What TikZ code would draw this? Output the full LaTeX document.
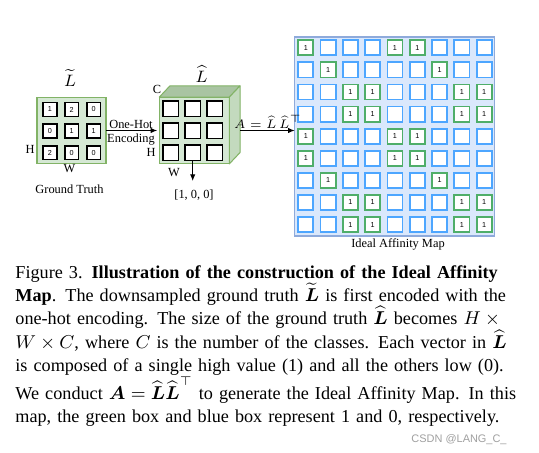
\documentclass[tikz,border=0pt]{standalone}
\usepackage{amsmath}
\usepackage{fontspec}
\setmainfont{Liberation Serif}
\newfontfamily\cellfont{Liberation Sans}
\usetikzlibrary{arrows.meta}
\definecolor{gfill}{HTML}{D5E8D4}
\definecolor{gdraw}{HTML}{82B366}
\definecolor{gtop}{HTML}{A9C4A2}
\definecolor{gside}{HTML}{C3DABE}
\definecolor{mfill}{HTML}{DAE8FC}
\definecolor{mdraw}{HTML}{8EAADB}
\definecolor{cblue}{HTML}{4DA6FF}
\definecolor{cgreen}{HTML}{4FAE6A}
\definecolor{wmark}{HTML}{A0A0A0}
\newcommand{\capline}[1]{\makebox[229.4pt][s]{#1}}
\begin{document}
\begin{tikzpicture}[x=0.484pt,y=-0.484pt,
  lab/.style={inner sep=0pt,font=\fontsize{6}{6.4}\selectfont},
  bigl/.style={inner sep=0pt,font=\fontsize{8.5}{9}\selectfont},
  greenbox/.style={draw=gdraw,fill=gfill,line width=0.5pt,inner sep=0pt,outer sep=0pt},
  blackcell/.style={draw=black,line width=0.7pt,fill=white,inner sep=0pt,font=\cellfont\fontsize{3.5}{4}\selectfont},
  gtcell/.style={blackcell,minimum size=6.6pt},
  cubecell/.style={blackcell,minimum size=7.5pt},
  mapcell/.style={line width=0.9pt,fill=white,inner sep=0pt,minimum size=7.3pt,font=\cellfont\fontsize{3.5}{4}\selectfont},
  gcell/.style={mapcell,draw=cgreen},
  bcell/.style={mapcell,draw=cblue},
  arr/.style={-{Latex[length=3.2pt,width=2.6pt]},line width=0.5pt}]
\fill[white] (0,0) rectangle (539,453);
\useasboundingbox (0,0) rectangle (539,453);

% ---------- ground truth ----------
\node[greenbox,minimum width=33.4pt,minimum height=32.4pt] (gt) at (71.5,130.5) {};
\node[gtcell] (g11) at (50,109.5) {1};
\node[gtcell] (g12) at (71.7,109.5) {2};
\node[gtcell] (g13) at (93.7,109.5) {0};
\node[gtcell] (g21) at (50,131) {0};
\node[gtcell] (g22) at (71.7,131) {1};
\node[gtcell] (g23) at (93.7,131) {1};
\node[gtcell] (g31) at (50,152.7) {2};
\node[gtcell] (g32) at (71.7,152.7) {0};
\node[gtcell] (g33) at (93.7,152.7) {0};
\node[bigl] (lt) at (70,78) {$\widetilde{L}$};
\node[lab] (gth) at (30,149) {H};
\node[lab] (gtw) at (69.5,169) {W};
\node[lab] (gtl) at (69.5,189) {Ground Truth};

% ---------- cube ----------
\node[greenbox,minimum width=33.9pt,minimum height=32.3pt] (cf) at (194.3,130.5) {};
\filldraw[draw=gdraw,fill=gtop,line width=0.5pt,line join=round]
  (cf.north west) -- ([shift={(10.7,-11.3)}]cf.north west) -- ([shift={(10.7,-11.3)}]cf.north east) -- (cf.north east) -- cycle;
\filldraw[draw=gdraw,fill=gside,line width=0.5pt,line join=round]
  (cf.north east) -- ([shift={(10.7,-11.3)}]cf.north east) -- ([shift={(10.7,-11.3)}]cf.south east) -- (cf.south east) -- cycle;
\node[cubecell] (c11) at (170.7,108.7) {};
\node[cubecell] (c12) at (192.7,108.7) {};
\node[cubecell] (c13) at (214.7,108.7) {};
\node[cubecell] (c21) at (170.7,130.7) {};
\node[cubecell] (c22) at (192.7,130.7) {};
\node[cubecell] (c23) at (214.7,130.7) {};
\node[cubecell] (c31) at (170.7,152.7) {};
\node[cubecell] (c32) at (192.7,152.7) {};
\node[cubecell] (c33) at (214.7,152.7) {};
\node[bigl] (lh) at (201.7,74) {$\widehat{L}$};
\node[lab] (cc) at (157,89) {C};
\node[lab] (ch) at (151,152) {H};
\node[lab] (cw) at (174,173) {W};
\coordinate (dn) at (192.7,181);
\draw[arr] (c32.south) -- (dn);
\node[lab] (vec) at (194,195) {[1, 0, 0]};

% ---------- affinity map ----------
\node[draw=mdraw,fill=mfill,line width=0.7pt,inner sep=0pt,outer sep=0pt,minimum width=96.8pt,minimum height=96.3pt] (map) at (394.7,136.5) {};
\foreach \i in {0,...,8}{
  \foreach \j in {0,...,8}{
    \pgfmathtruncatemacro\li{{1,2,0,0,1,1,2,0,0}[\i]}
    \pgfmathtruncatemacro\lj{{1,2,0,0,1,1,2,0,0}[\j]}
    \ifnum\li=\lj
      \node[gcell] (m\i\j) at (305.8+22.3*\j,47.8+22.1*\i) {1};
    \else
      \node[bcell] (m\i\j) at (305.8+22.3*\j,47.8+22.1*\i) {};
    \fi
  }
}
\node[lab] (ml) at (398,244) {Ideal Affinity Map};

% ---------- arrows ----------
\draw[arr,shorten >=1pt] (gt.east) -- (cf.west);
\node[lab,align=center,font=\fontsize{6}{6.8}\selectfont] (oh) at (131,133) {One-Hot\\Encoding};
\coordinate (cr) at (240,130.5);
\draw[arr] (cr) -- (cr -| map.west);
\node[lab,font=\fontsize{5.6}{6}\selectfont] (al) at (268,122) {$A=\widehat{L}\,\widehat{L}^{\top}$};

% ---------- caption ----------
\node[anchor=base west,text width=229.4pt,align=left,inner sep=0pt,font=\fontsize{8.8}{11.3}\selectfont] (cap) at (15,278)
{\capline{Figure 3. \textbf{Illustration of the construction of the Ideal Affinity}}\\
\capline{\textbf{Map}. The downsampled ground truth $\widetilde{\boldsymbol{L}}$ is first encoded with the}\\
\capline{one-hot encoding. The size of the ground truth $\widehat{\boldsymbol{L}}$ becomes $H\mskip4mu\mathord{\times}$}\\
\capline{$W\mskip4mu\mathord{\times}\mskip4mu C$, where $C$ is the number of the classes. Each vector in $\widehat{\boldsymbol{L}}$}\\
\capline{is composed of a single high value (1) and all the others low (0).}\\
\capline{We conduct $\boldsymbol{A}=\widehat{\boldsymbol{L}}\widehat{\boldsymbol{L}}^{\top}$ to generate the Ideal Affinity Map. In this}\\
\capline{map, the green box and blue box represent 1 and 0, respectively.}};
\node[anchor=base east,inner sep=0pt,text=wmark,font=\cellfont\fontsize{5.3}{6}\selectfont] (wm) at (507,442) {CSDN @LANG\_C\_};
\end{tikzpicture}
\end{document}
